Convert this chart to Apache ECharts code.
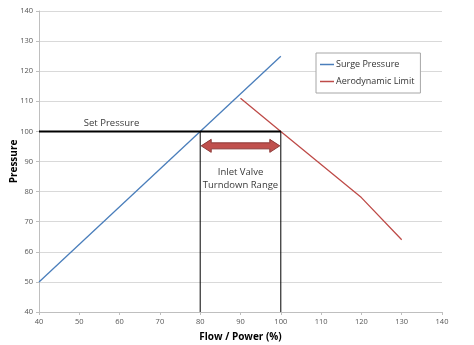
<!DOCTYPE html>
<html><head><meta charset="utf-8">
<script src="https://cdn.jsdelivr.net/npm/echarts@6/dist/echarts.min.js"></script>
<style>html,body{margin:0;padding:0;background:#fff}#c{width:474px;height:345px}</style>
</head><body><div id="c"></div>
<script>
// Data
var surgeFlow = [40, 100];
var surgePressure = [50, 125];
var aeroFlow = [90, 100, 120, 130];
var aeroPressure = [111, 100, 78, 64];
var setPressureLine = [[40, 100], [100, 100]];
var turndownLeft = [[80, 100], [80, 40]];
var turndownRight = [[100, 100], [100, 40]];
var arrowSpan = [80, 100, 95.2]; // from, to, pressure
var setPressureLabel = [58, 102.8, 'Set Pressure'];
var turndownLabel = [90, 84.4, 'Inlet Valve\nTurndown Range'];

var chart = echarts.init(document.getElementById('c'), null, {renderer: 'canvas'});
var font = 'Open Sans';
function zip(a, b) { return a.map(function (v, i) { return [v, b[i]]; }); }

chart.setOption({
  animation: false,
  textStyle: {fontFamily: font},
  grid: {left: 39, right: 32, top: 11, bottom: 33, containLabel: false, outerBoundsMode: 'none'},
  legend: {
    orient: 'vertical', left: 316, top: 53, width: 100,
    padding: [7, 6, 7, 4], itemGap: 8,
    borderColor: '#A6A6A6', borderWidth: 1, backgroundColor: '#fff',
    icon: 'rect', itemWidth: 14, itemHeight: 1.5,
    textStyle: {fontFamily: font, fontSize: 9, color: '#333', padding: [0, 0, 0, -3]},
    data: ['Surge Pressure', 'Aerodynamic Limit']
  },
  xAxis: {
    type: 'value', min: 40, max: 140, interval: 10,
    name: 'Flow / Power (%)', nameLocation: 'middle', nameGap: 20, nameMoveOverlap: false,
    nameTextStyle: {fontFamily: font, fontSize: 10, fontWeight: 'bold', color: '#000'},
    axisLine: {lineStyle: {color: '#BFBFBF'}},
    axisTick: {show: true, length: 3, lineStyle: {color: '#BFBFBF'}},
    axisLabel: {fontSize: 7.5, color: '#555', margin: 6},
    splitLine: {show: false}
  },
  yAxis: {
    type: 'value', min: 40, max: 140, interval: 10,
    name: 'Pressure', nameLocation: 'middle', nameGap: 20, nameRotate: 90, nameMoveOverlap: false,
    nameTextStyle: {fontFamily: font, fontSize: 10, fontWeight: 'bold', color: '#000'},
    axisLine: {show: true, lineStyle: {color: '#BFBFBF'}},
    axisTick: {show: true, length: 3, lineStyle: {color: '#BFBFBF'}},
    axisLabel: {fontSize: 7.5, color: '#555', margin: 6},
    splitLine: {show: true, lineStyle: {color: '#D9D9D9', width: 1}}
  },
  series: [
    {name: 'Surge Pressure', type: 'line', data: zip(surgeFlow, surgePressure),
     showSymbol: false, lineStyle: {color: '#4A7EBB', width: 1.3}, itemStyle: {color: '#4A7EBB'}, z: 3},
    {name: 'Aerodynamic Limit', type: 'line', data: zip(aeroFlow, aeroPressure),
     showSymbol: false, lineStyle: {color: '#BE4B48', width: 1.3}, itemStyle: {color: '#BE4B48'}, z: 3},
    {name: 'setp', type: 'line', data: setPressureLine, showSymbol: false,
     lineStyle: {color: '#000', width: 2}, z: 4},
    {name: 'tdl', type: 'line', data: turndownLeft, showSymbol: false,
     lineStyle: {color: '#000', width: 1}, z: 4},
    {name: 'tdr', type: 'line', data: turndownRight, showSymbol: false,
     lineStyle: {color: '#000', width: 1}, z: 4},
    {name: 'arrow', type: 'custom', data: [arrowSpan], z: 5,
     renderItem: function (params, api) {
       var p1 = api.coord([api.value(0), api.value(2)]);
       var p2 = api.coord([api.value(1), api.value(2)]);
       var x1 = p1[0] + 1, x2 = p2[0] - 1, y = p1[1];
       var hw = 10, sh = 3, hh = 6.5;
       var pts = [
         [x1, y], [x1 + hw, y - hh], [x1 + hw, y - sh], [x2 - hw, y - sh], [x2 - hw, y - hh],
         [x2, y], [x2 - hw, y + hh], [x2 - hw, y + sh], [x1 + hw, y + sh], [x1 + hw, y + hh]
       ];
       return {type: 'polygon', shape: {points: pts},
               style: {fill: '#C0504D', stroke: '#8C3836', lineWidth: 1}};
     }},
    {name: 'labels', type: 'scatter', symbolSize: 0, silent: true, z: 6,
     data: [setPressureLabel, turndownLabel],
     label: {show: true, position: 'inside', formatter: function (p) { return p.value[2]; },
             fontFamily: font, fontSize: 9.5, color: '#000', lineHeight: 13, align: 'center'}}
  ]
});
</script></body></html>
